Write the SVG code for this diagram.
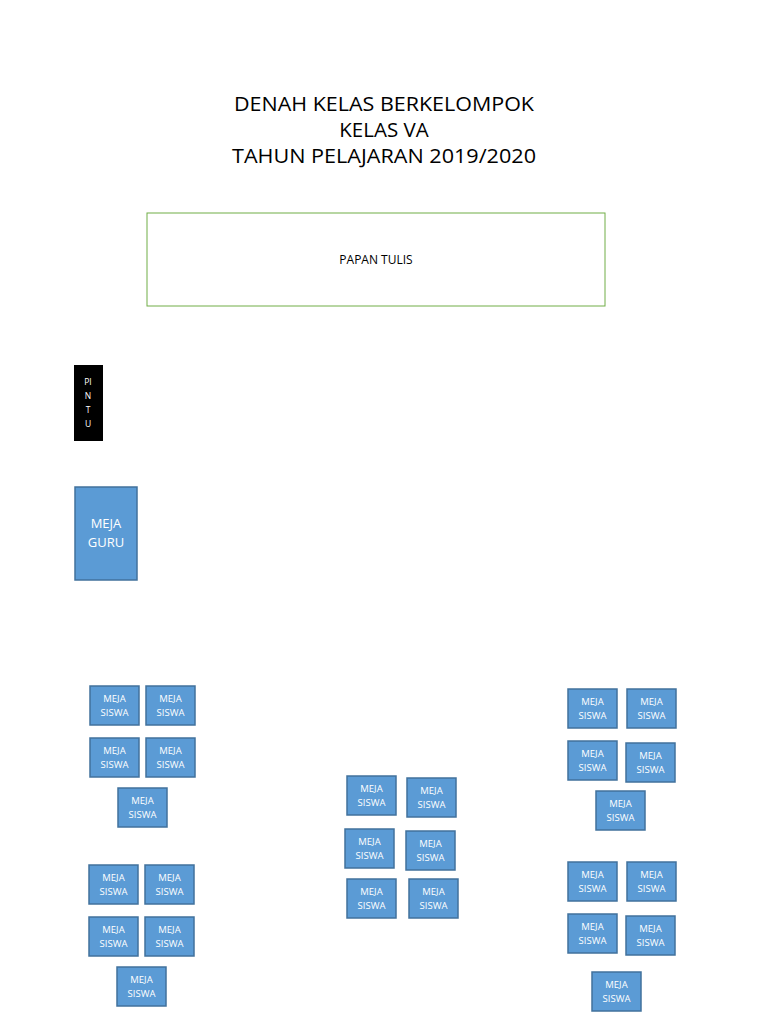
<svg xmlns="http://www.w3.org/2000/svg" width="768" height="1024" viewBox="0 0 768 1024">
<style>
.t{font-family:"Open Sans","Noto Sans",sans-serif;fill:#000;text-anchor:middle}
.r{fill:#5b9bd5;stroke:#41719c;stroke-width:1.5}
.w{font-family:"Open Sans","Noto Sans",sans-serif;font-size:9.5px;fill:#fff;text-anchor:middle}
</style>
<rect width="768" height="1024" fill="#fff"/>
<g id="title" class="t" font-size="20.5" textLength="300">
<text x="384" y="111" textLength="300" lengthAdjust="spacingAndGlyphs">DENAH KELAS BERKELOMPOK</text>
<text x="384" y="137">KELAS VA</text>
<text x="384" y="163" textLength="304" lengthAdjust="spacingAndGlyphs">TAHUN PELAJARAN 2019/2020</text>
</g>
<g id="papan"><rect x="147" y="213" width="458" height="93" fill="#fff" stroke="#70ad47" stroke-width="1"/>
<text class="t" x="376" y="264" font-size="12">PAPAN TULIS</text></g>
<g id="pintu"><rect x="74" y="365" width="29" height="76" fill="#000"/>
<g font-family="Open Sans,sans-serif" font-size="8.5" fill="#fff" text-anchor="middle">
<text x="88" y="385">PI</text><text x="88" y="399">N</text><text x="88" y="413">T</text><text x="88" y="427">U</text></g></g>
<g id="guru"><rect class="r" x="75" y="487" width="62" height="93"/>
<text class="w" x="106" y="528" style="font-size:13px">MEJA</text><text class="w" x="106" y="547" style="font-size:13px">GURU</text></g>
<defs><g id="m"><rect class="r" x="0" y="0" width="49" height="39"/><text class="w" x="24.5" y="16">MEJA</text><text class="w" x="24.5" y="30">SISWA</text></g></defs>
<g id="siswa">
<use href="#m" x="90" y="686"/><use href="#m" x="146" y="686"/><use href="#m" x="90" y="738"/><use href="#m" x="146" y="738"/><use href="#m" x="118" y="788"/>
<use href="#m" x="89" y="865"/><use href="#m" x="145" y="865"/><use href="#m" x="89" y="917"/><use href="#m" x="145" y="917"/><use href="#m" x="117" y="967"/>
<use href="#m" x="347" y="776"/><use href="#m" x="407" y="778"/><use href="#m" x="345" y="829"/><use href="#m" x="406" y="831"/><use href="#m" x="347" y="879"/><use href="#m" x="409" y="879"/>
<use href="#m" x="568" y="689"/><use href="#m" x="627" y="689"/><use href="#m" x="568" y="741"/><use href="#m" x="626" y="743"/><use href="#m" x="596" y="791"/>
<use href="#m" x="568" y="862"/><use href="#m" x="627" y="862"/><use href="#m" x="568" y="914"/><use href="#m" x="626" y="916"/><use href="#m" x="592" y="972"/>
</g>
</svg>
